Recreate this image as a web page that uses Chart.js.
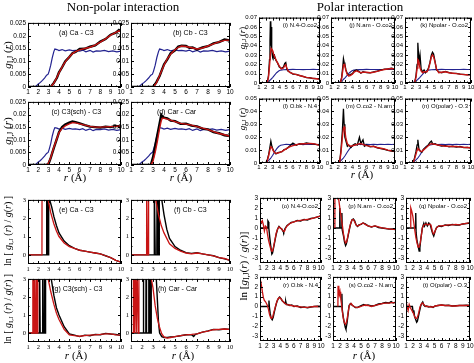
<!DOCTYPE html>
<html>
<head>
<meta charset="utf-8">
<script src="https://cdn.jsdelivr.net/npm/chart.js@4.4.1/dist/chart.umd.min.js"></script>
<style>
  body { margin: 0; background: #fff; }
  #fig { position: relative; width: 474px; height: 363px; overflow: hidden; font-family: "Liberation Serif", serif; }
  #fig canvas { position: absolute; }
  .t { position: absolute; white-space: nowrap; color: #000; line-height: 1; }
  sub { font-size: 0.7em; line-height: 0; vertical-align: -0.3em; }
</style>
</head>
<body>
<div id="fig"></div>
<script>
// ---- axis ticks ----
const xTicks = [1, 2, 3, 4, 5, 6, 7, 8, 9, 10];
const gTicks = [0, 0.005, 0.01, 0.015, 0.02, 0.025];
const g7Ticks = [0, 0.01, 0.02, 0.03, 0.04, 0.05, 0.06, 0.07];
const g5Ticks = [0, 0.01, 0.02, 0.03, 0.04, 0.05];
const lnLTicks = [0, 1, 2, 3];
const lnRTicks = [-3, -2, -1, 0, 1, 2, 3];

// ---- blue reference curves (same in every panel of a block) ----
const bluLX = [1, 1.6, 1.8, 2.0, 2.2, 2.4, 2.6, 2.8, 2.95, 3.05, 3.2, 3.35, 3.5, 3.6, 3.8, 4.0, 4.3, 4.6, 5.0, 5.3, 5.6, 6.0, 6.3, 6.6, 7.0, 7.3, 7.6, 8.0, 8.4, 8.8, 9.2, 9.6, 10];
const bluLY = [0, 0, 0.0004, 0.0012, 0.0018, 0.0026, 0.0035, 0.0046, 0.005, 0.0062, 0.0085, 0.0115, 0.0138, 0.0148, 0.0146, 0.0142, 0.0146, 0.0141, 0.0145, 0.0142, 0.0143, 0.014, 0.0144, 0.0137, 0.0143, 0.0136, 0.0141, 0.014, 0.0143, 0.0138, 0.0141, 0.0137, 0.014];
const bluRX = [1, 1.8, 2.1, 2.4, 2.7, 3.0, 3.3, 3.6, 3.9, 4.2, 4.6, 5.0, 5.5, 6.0, 6.5, 7.0, 7.5, 8.0, 8.5, 9.0, 9.5, 10];
const bluRY = [0, 0, 0.0005, 0.0018, 0.0035, 0.0058, 0.0085, 0.011, 0.0128, 0.0138, 0.0142, 0.0145, 0.0143, 0.0146, 0.0144, 0.0145, 0.0143, 0.0145, 0.0144, 0.0146, 0.0144, 0.0145];

// ---- non-polar g_ij(r) ----
const aX = [1, 3.2, 3.5, 3.8, 4.0, 4.3, 4.6, 5.0, 5.3, 5.6, 6.0, 6.5, 7.0, 7.5, 8.0, 8.5, 9.0, 9.5, 9.8, 10];
const aRed = [0, 0, 0.0015, 0.0038, 0.0055, 0.0078, 0.0098, 0.0118, 0.013, 0.0138, 0.0145, 0.015, 0.0155, 0.0163, 0.0175, 0.0188, 0.0202, 0.0213, 0.0219, 0.0216];
const aBlk = [0, 0, 0.0016, 0.0036, 0.0057, 0.0077, 0.01, 0.0117, 0.0132, 0.0137, 0.0148, 0.0149, 0.0157, 0.0162, 0.0177, 0.0187, 0.0204, 0.0212, 0.0222, 0.0217];
const bX = [1, 3.0, 3.3, 3.6, 4.0, 4.3, 4.6, 5.0, 5.3, 5.6, 6.0, 6.3, 6.6, 7.0, 7.5, 8.0, 8.5, 9.0, 9.5, 10];
const bRed = [0, 0, 0.0015, 0.0045, 0.0085, 0.011, 0.0128, 0.0145, 0.0155, 0.016, 0.0158, 0.0155, 0.0152, 0.0148, 0.0152, 0.016, 0.0168, 0.0176, 0.0182, 0.0183];
const bBlk = [0, 0, 0.0018, 0.0043, 0.0088, 0.0108, 0.0131, 0.0143, 0.0158, 0.0161, 0.016, 0.0153, 0.0154, 0.0146, 0.0154, 0.0159, 0.017, 0.0175, 0.0185, 0.0181];
const cX = [1, 2.8, 3.0, 3.2, 3.5, 3.8, 4.0, 4.3, 4.6, 5.0, 5.3, 5.6, 6.0, 6.5, 7.0, 7.5, 8.0, 8.5, 9.0, 9.5, 10];
const cRed = [0, 0, 0.0008, 0.003, 0.007, 0.0105, 0.0128, 0.0145, 0.0155, 0.0163, 0.0168, 0.0167, 0.0163, 0.0158, 0.0153, 0.015, 0.015, 0.0151, 0.0152, 0.0153, 0.0155];
const cBlk = [0, 0, 0.0006, 0.0028, 0.0068, 0.0104, 0.013, 0.015, 0.016, 0.0168, 0.0172, 0.017, 0.0165, 0.0158, 0.0152, 0.015, 0.0148, 0.0152, 0.015, 0.0155, 0.0152];
const dX = [1, 2.8, 3.0, 3.2, 3.4, 3.6, 3.75, 3.85, 4.0, 4.3, 4.6, 5.0, 5.5, 6.0, 6.5, 7.0, 7.5, 8.0, 8.5, 9.0, 9.5, 10];
const dRed = [0, 0, 0.0015, 0.005, 0.0095, 0.0145, 0.0175, 0.0185, 0.0185, 0.0182, 0.0178, 0.0172, 0.0165, 0.0162, 0.0158, 0.0152, 0.0146, 0.014, 0.0132, 0.0125, 0.012, 0.0114];
const dBlk = [0, 0, 0.003, 0.0075, 0.012, 0.0165, 0.0198, 0.0192, 0.0188, 0.0185, 0.0176, 0.0174, 0.0163, 0.0164, 0.0156, 0.0153, 0.0144, 0.0141, 0.013, 0.0126, 0.0118, 0.0115];

// ---- polar g_ij(r) ----
const iX = [1, 2.2, 2.4, 2.55, 2.7, 2.8, 2.9, 3.0, 3.15, 3.3, 3.5, 3.7, 4.0, 4.3, 4.6, 4.8, 4.95, 5.1, 5.3, 5.6, 6.0, 6.5, 7.0, 7.5, 8.0, 8.5, 9.0, 9.5, 10];
const iRed = [0, 0, 0.006, 0.018, 0.032, 0.037, 0.037, 0.035, 0.031, 0.028, 0.025, 0.022, 0.018, 0.015, 0.016, 0.0185, 0.0195, 0.016, 0.013, 0.011, 0.01, 0.009, 0.008, 0.007, 0.006, 0.0055, 0.005, 0.0045, 0.004];
const iBx = [1, 2.2, 2.4, 2.55, 2.62, 2.68, 2.72, 2.76, 2.8, 2.85, 2.9, 3.0, 3.1, 3.2, 3.3, 3.5, 3.7, 4.0, 4.3, 4.6, 4.8, 4.95, 5.1, 5.3, 5.6, 6.0, 6.5, 7.0, 7.5, 8.0, 8.5, 9.0, 9.5, 10];
const iBlk = [0, 0, 0.008, 0.025, 0.045, 0.066, 0.04, 0.065, 0.05, 0.06, 0.035, 0.028, 0.031, 0.027, 0.029, 0.024, 0.022, 0.017, 0.0155, 0.017, 0.021, 0.022, 0.015, 0.0125, 0.0115, 0.0095, 0.0092, 0.0078, 0.0072, 0.0058, 0.0056, 0.0048, 0.0046, 0.0042];
const jX = [1, 2.3, 2.5, 2.65, 2.75, 2.85, 2.95, 3.1, 3.3, 3.5, 3.7, 4.0, 4.3, 4.6, 4.9, 5.2, 5.5, 6.0, 6.5, 7.0, 7.5, 8.0, 8.5, 9.0, 9.5, 10];
const jRed = [0, 0, 0.005, 0.013, 0.019, 0.02, 0.018, 0.013, 0.009, 0.0075, 0.008, 0.0095, 0.012, 0.013, 0.012, 0.011, 0.0115, 0.0115, 0.011, 0.0115, 0.0125, 0.0135, 0.0145, 0.015, 0.0155, 0.015];
const jBlk = [0, 0, 0.006, 0.017, 0.026, 0.022, 0.02, 0.014, 0.01, 0.008, 0.009, 0.01, 0.013, 0.014, 0.0125, 0.0105, 0.012, 0.0112, 0.0108, 0.012, 0.0128, 0.0138, 0.0148, 0.0152, 0.0158, 0.0148];
const kX = [1, 2.3, 2.5, 2.65, 2.75, 2.85, 2.95, 3.05, 3.2, 3.4, 3.6, 3.8, 4.0, 4.2, 4.4, 4.6, 4.75, 4.9, 5.1, 5.3, 5.6, 6.0, 6.5, 7.0, 7.5, 8.0, 8.5, 9.0, 9.5, 10];
const kRed = [0, 0, 0.006, 0.016, 0.025, 0.024, 0.02, 0.016, 0.013, 0.011, 0.012, 0.012, 0.012, 0.015, 0.021, 0.028, 0.03, 0.028, 0.022, 0.015, 0.011, 0.0115, 0.012, 0.011, 0.0105, 0.01, 0.0095, 0.009, 0.0088, 0.0088];
const kBlk = [0, 0, 0.008, 0.02, 0.043, 0.03, 0.024, 0.03, 0.015, 0.012, 0.014, 0.011, 0.013, 0.016, 0.022, 0.03, 0.033, 0.031, 0.023, 0.014, 0.012, 0.011, 0.0125, 0.011, 0.0102, 0.0102, 0.0094, 0.0092, 0.0086, 0.009];
const lX = [1, 2.0, 2.2, 2.4, 2.6, 2.75, 2.9, 3.1, 3.3, 3.5, 3.8, 4.1, 4.4, 4.7, 5.0, 5.5, 6.0, 6.5, 7.0, 7.5, 8.0, 8.5, 9.0, 9.5, 10];
const lRed = [0, 0, 0.0015, 0.005, 0.01, 0.0125, 0.012, 0.0095, 0.008, 0.0075, 0.0078, 0.0082, 0.009, 0.01, 0.011, 0.0125, 0.0135, 0.0142, 0.0148, 0.015, 0.015, 0.0152, 0.015, 0.0145, 0.0135];
const lBlk = [0, 0, 0.002, 0.006, 0.012, 0.017, 0.013, 0.01, 0.0082, 0.007, 0.008, 0.0085, 0.0088, 0.0105, 0.0108, 0.013, 0.0155, 0.0138, 0.015, 0.0148, 0.0155, 0.015, 0.0148, 0.0142, 0.0138];
const mX = [1, 2.2, 2.4, 2.6, 2.75, 2.85, 2.95, 3.1, 3.3, 3.5, 3.8, 4.1, 4.4, 4.7, 5.0, 5.2, 5.5, 5.7, 6.0, 6.5, 7.0, 7.5, 8.0, 8.5, 9.0, 9.5, 10];
const mRed = [0, 0, 0.008, 0.02, 0.027, 0.028, 0.025, 0.019, 0.015, 0.0135, 0.013, 0.0135, 0.014, 0.0145, 0.015, 0.015, 0.0145, 0.014, 0.0135, 0.013, 0.0128, 0.012, 0.0115, 0.011, 0.01, 0.0095, 0.009];
const mBlk = [0, 0, 0.01, 0.025, 0.042, 0.03, 0.02, 0.017, 0.013, 0.014, 0.012, 0.014, 0.015, 0.014, 0.02, 0.015, 0.018, 0.013, 0.014, 0.0125, 0.013, 0.0118, 0.0112, 0.0105, 0.0098, 0.0092, 0.0088];
const nX = [1, 2.1, 2.3, 2.5, 2.65, 2.75, 2.9, 3.1, 3.3, 3.5, 3.8, 4.1, 4.4, 4.6, 4.8, 5.1, 5.5, 6.0, 6.5, 7.0, 7.5, 8.0, 8.5, 9.0, 9.5, 10];
const nRed = [0, 0, 0.003, 0.007, 0.01, 0.0112, 0.0105, 0.0092, 0.009, 0.01, 0.0115, 0.013, 0.0145, 0.015, 0.0148, 0.0145, 0.014, 0.0135, 0.013, 0.013, 0.0128, 0.0128, 0.0125, 0.0122, 0.012, 0.0118];
const nBlk = [0, 0, 0.004, 0.009, 0.014, 0.018, 0.011, 0.009, 0.0085, 0.0105, 0.012, 0.0135, 0.016, 0.017, 0.0145, 0.015, 0.0138, 0.0132, 0.0135, 0.0126, 0.013, 0.0124, 0.0128, 0.012, 0.0122, 0.0115];

// ---- non-polar ln[g_ij/g] (values above 3 run off the top) ----
const eRx = [1, 2.35, 2.36, 2.95, 3.2, 3.5, 3.75, 4.0, 4.5, 5.0, 5.5, 6.0, 6.5, 7.0, 7.5, 8.0, 8.5, 9.0, 9.5, 10];
const eRed = [0, 0, 4, 3.0, 2.3, 1.7, 1.3, 1.0, 0.65, 0.45, 0.35, 0.25, 0.2, 0.15, 0.1, 0.05, -0.05, -0.15, -0.3, -0.4];
const eBx = [1, 2.8, 2.81, 2.86, 2.9, 2.95, 3.0, 3.1, 3.3, 3.5, 3.75, 4.0, 4.5, 5.0, 5.5, 6.0, 6.5, 7.0, 7.5, 8.0, 8.5, 9.0, 9.5, 10];
const eBlk = [0, 0, 4, 0, 4, 0, 4, 3.0, 2.6, 2.1, 1.6, 1.2, 0.75, 0.5, 0.35, 0.25, 0.2, 0.15, 0.1, 0.05, -0.05, -0.15, -0.3, -0.4];
const fRx = [1, 2.4, 2.42, 2.5, 2.55, 2.6, 3.25, 3.5, 3.75, 4.0, 4.5, 5.0, 5.5, 6.0, 6.5, 7.0, 7.5, 8.0, 8.5, 9.0, 9.5, 10];
const fRed = [0, 0, 4, 0, 0, 4, 3.0, 2.2, 1.6, 1.2, 0.6, 0.35, 0.2, 0.1, 0.05, 0.1, 0.05, 0.0, -0.05, -0.15, -0.2, -0.3];
const fBx = [1, 3.1, 3.12, 3.2, 3.35, 3.37, 3.45, 3.55, 3.57, 3.8, 4.0, 4.25, 4.5, 5.0, 5.5, 6.0, 6.5, 7.0, 7.5, 8.0, 8.5, 9.0, 9.5, 10];
const fBlk = [0, 0, 4, 0, 0, 4, 0, 0, 4, 3.0, 2.2, 1.4, 0.9, 0.45, 0.25, 0.12, 0.08, 0.12, 0.05, 0.0, -0.05, -0.15, -0.22, -0.3];
const gRx = [1, 1.45, 1.47, 1.55, 1.6, 1.62, 1.72, 1.78, 1.8, 1.9, 1.95, 2.95, 3.2, 3.5, 3.75, 4.0, 4.5, 5.0, 5.5, 6.0, 6.5, 7.0, 7.5, 8.0, 8.5, 9.0, 9.5, 10];
const gRed = [0, 0, 4, 0, 0, 4, 0, 0, 4, 0, 4, 3.0, 2.3, 1.6, 1.1, 0.75, 0.2, -0.1, -0.15, -0.18, -0.15, -0.12, -0.1, -0.08, -0.05, -0.05, -0.1, -0.12];
const gBx = [1, 2.1, 2.12, 2.18, 2.4, 2.42, 2.48, 2.55, 2.57, 2.63, 2.68, 2.7, 3.25, 3.5, 3.75, 4.0, 4.5, 5.0, 5.5, 6.0, 6.5, 7.0, 7.5, 8.0, 8.5, 9.0, 9.5, 10];
const gBlk = [0, 0, 4, 0, 0, 4, 0, 0, 4, 0, 0, 4, 3.0, 2.1, 1.4, 1.0, 0.35, -0.05, -0.12, -0.2, -0.12, -0.15, -0.08, -0.1, -0.02, -0.06, -0.08, -0.14];
const hRx = [1, 1.2, 1.22, 1.32, 1.38, 1.48, 1.55, 1.65, 1.72, 2.85, 3.0, 3.2, 3.4, 3.6, 3.8, 4.0, 4.3, 4.6, 5.0, 5.5, 6.0, 6.5, 7.0, 7.5, 8.0, 8.5, 9.0, 9.5, 10];
const hRed = [0, 0, 4, 0, 4, 0, 4, 0, 4, 3.0, 2.5, 1.5, 0.8, 0.3, -0.05, -0.22, -0.28, -0.25, -0.2, -0.15, -0.1, -0.08, -0.05, 0.05, 0.1, 0.18, 0.2, 0.22, 0.2];
const hBx = [1, 2.1, 2.12, 2.16, 2.35, 2.37, 2.41, 2.6, 2.62, 2.66, 2.7, 2.74, 2.78, 2.82, 2.84, 3.3, 3.4, 3.5, 3.6, 3.8, 4.0, 4.3, 4.6, 5.0, 5.5, 6.0, 6.5, 6.7, 6.85, 7.0, 7.5, 8.0, 8.5, 9.0, 9.5, 10];
const hBlk = [0, 0, 4, 0, 0, 4, 0, 0, 4, 0, 4, 0, 4, 0, 4, 3.0, 1.8, 0.6, 0.0, -0.2, -0.25, -0.25, -0.22, -0.2, -0.15, -0.1, -0.1, -0.2, -0.08, -0.05, 0.05, 0.12, 0.2, 0.18, 0.22, 0.2];

// ---- polar ln[g_ij/g] ----
const oRx = [1.05, 1.2, 1.35, 1.5, 1.65, 1.8, 1.95, 2.1, 2.25, 2.4, 2.55, 2.7, 2.85, 3.0, 3.2, 3.4, 3.6, 3.8, 4.0, 4.2, 4.4, 4.6, 4.8, 5.0, 5.3, 5.6, 6.0, 6.5, 7.0, 7.5, 8.0, 8.5, 9.0, 9.5, 10];
const oRed = [0.8, 0.5, 0.7, 0.3, -0.3, 0.2, 0.1, -0.6, -1.2, -1.6, -2.0, -2.3, -2.3, -1.9, -1.2, -0.5, -0.1, 0.1, 0.0, -0.1, -0.3, -0.35, 0.0, 0.2, 0.4, 0.5, 0.6, 0.7, 0.75, 0.8, 0.85, 0.9, 1.0, 1.1, 1.2];
const oBx = [1, 2.15, 2.17, 2.25, 2.3, 2.45, 2.6, 2.75, 2.85, 3.0, 3.2, 3.4, 3.6, 3.8, 4.0, 4.2, 4.4, 4.5, 4.7, 5.0, 5.3, 5.6, 6.0, 6.5, 7.0, 7.5, 8.0, 8.5, 9.0, 9.5, 10];
const oBlk = [0, 0, 0.7, 0.6, 0, -1.0, -1.9, -2.6, -2.5, -2.0, -1.3, -0.6, -0.1, 0.15, 0.0, -0.1, -0.35, -0.45, -0.05, 0.25, 0.4, 0.55, 0.6, 0.75, 0.7, 0.85, 0.8, 0.95, 1.0, 1.1, 1.2];
const pRx = [1.25, 1.27, 1.4, 1.5, 1.6, 1.75, 1.9, 2.05, 2.2, 2.35, 2.5, 2.65, 2.8, 2.95, 3.1, 3.3, 3.5, 3.7, 3.9, 4.1, 4.3, 4.5, 4.7, 5.0, 5.3, 5.6, 6.0, 6.5, 7.0, 7.5, 8.0, 8.5, 9.0, 9.5, 10];
const pRed = [0, 4, 4, 4, 4, 3.2, 2.4, 1.6, 0.9, 0.2, -0.6, -1.2, -1.5, -1.4, -0.9, -0.2, 0.4, 0.8, 0.85, 0.6, 0.3, 0.2, 0.25, 0.4, 0.5, 0.35, 0.2, 0.1, 0.2, 0.1, 0.0, -0.05, -0.1, -0.15, -0.15];
const pBx = [1, 1.95, 1.97, 2.02, 2.25, 2.27, 2.32, 2.5, 2.65, 2.8, 2.9, 3.1, 3.3, 3.5, 3.7, 3.9, 4.1, 4.3, 4.5, 4.7, 5.0, 5.3, 5.6, 6.0, 6.5, 7.0, 7.5, 8.0, 8.5, 9.0, 9.5, 10];
const pBlk = [0, 0, 2.0, 0, 0, 1.5, -0.2, -0.8, -1.4, -1.75, -1.6, -1.0, -0.3, 0.35, 0.8, 0.9, 0.7, 0.3, 0.15, 0.3, 0.35, 0.5, 0.4, 0.2, 0.1, 0.2, 0.05, 0.0, -0.05, -0.12, -0.1, -0.2];
const qRx = [1.65, 1.67, 1.8, 1.95, 2.1, 2.25, 2.4, 2.55, 2.7, 2.85, 3.0, 3.15, 3.3, 3.5, 3.7, 3.9, 4.1, 4.3, 4.5, 4.7, 4.85, 5.0, 5.2, 5.4, 5.7, 6.0, 6.5, 7.0, 7.5, 8.0, 8.5, 9.0, 9.5, 10];
const qRed = [0, 2.0, 1.7, 1.2, 0.5, -0.3, -1.0, -1.5, -1.9, -1.9, -1.5, -0.8, 0.0, 0.3, 0.35, 0.4, 0.3, 0.4, 0.3, -0.3, -0.6, -0.5, -0.1, 0.1, 0.2, 0.2, 0.25, 0.3, 0.3, 0.35, 0.3, 0.4, 0.45, 0.5];
const qBx = [1, 2.35, 2.37, 2.42, 2.55, 2.7, 2.85, 2.95, 3.1, 3.3, 3.5, 3.6, 3.8, 4.0, 4.2, 4.4, 4.6, 4.75, 4.9, 5.1, 5.3, 5.6, 6.0, 6.5, 7.0, 7.5, 8.0, 8.5, 9.0, 9.5, 10];
const qBlk = [0, 0, 1.5, -0.5, -1.3, -1.8, -2.3, -2.0, -1.0, 0.0, 0.45, 0.2, 0.5, 0.2, 0.5, 0.35, -0.2, -0.55, -0.8, -0.3, 0.05, 0.2, 0.15, 0.3, 0.25, 0.35, 0.3, 0.3, 0.4, 0.45, 0.5];
const rRx = [1.1, 1.2, 1.35, 1.5, 1.65, 1.8, 1.95, 2.1, 2.25, 2.4, 2.55, 2.7, 2.85, 3.0, 3.2, 3.4, 3.6, 3.8, 4.0, 4.2, 4.4, 4.6, 4.8, 5.0, 5.3, 5.6, 6.0, 6.5, 7.0, 7.5, 8.0, 8.5, 9.0, 9.5, 10];
const rRed = [2.6, 2.2, 1.5, 0.9, 0.6, 0.5, 0.3, 0.1, -0.3, -0.8, -1.1, -1.2, -1.1, -0.7, -0.2, 0.3, 0.7, 0.9, 0.85, 0.7, 0.5, 0.35, 0.25, 0.2, 0.15, 0.1, 0.05, 0.0, -0.05, -0.1, -0.1, -0.05, 0.0, 0.0, 0.0];
const rBx = [1, 2.3, 2.32, 2.38, 2.5, 2.65, 2.8, 2.95, 3.1, 3.3, 3.5, 3.7, 3.9, 4.1, 4.3, 4.5, 4.7, 4.8, 4.9, 5.1, 5.4, 5.7, 6.0, 6.5, 7.0, 7.5, 8.0, 8.5, 9.0, 9.5, 10];
const rBlk = [0, 0, 0.6, 0, -0.7, -1.2, -1.35, -1.1, -0.6, 0.0, 0.5, 0.8, 0.95, 0.8, 0.55, 0.45, 0.3, 0.5, 0.2, 0.2, 0.1, 0.15, 0.0, 0.05, -0.1, -0.05, -0.12, -0.05, 0.0, 0.02, 0.0];
const sRx = [1.7, 1.72, 1.8, 1.85, 1.9, 2.0, 2.1, 2.2, 2.35, 2.5, 2.65, 2.8, 2.95, 3.1, 3.25, 3.4, 3.6, 3.8, 4.0, 4.3, 4.6, 5.0, 5.3, 5.6, 6.0, 6.5, 7.0, 7.5, 8.0, 8.5, 9.0, 9.5, 10];
const sRed = [0, 2.1, 1.6, 2.0, 1.2, 1.5, 0.8, 0.3, -0.6, -1.3, -1.7, -1.8, -1.5, -0.9, -0.2, 0.2, 0.3, 0.1, 0.0, -0.1, -0.1, 0.0, 0.1, 0.15, 0.1, 0.0, 0.1, 0.2, 0.3, 0.35, 0.35, 0.4, 0.4];
const sBx = [1, 2.25, 2.27, 2.32, 2.45, 2.6, 2.75, 2.85, 3.0, 3.15, 3.3, 3.5, 3.7, 3.9, 4.2, 4.5, 4.8, 5.1, 5.4, 5.7, 6.0, 6.5, 7.0, 7.5, 8.0, 8.5, 9.0, 9.3, 9.6, 10];
const sBlk = [0, 0, 1.3, -0.3, -1.0, -1.6, -2.1, -2.3, -1.7, -0.8, 0.1, 0.3, 0.15, 0.05, -0.1, -0.1, 0.0, 0.1, 0.2, 0.1, 0.15, 0.05, 0.1, 0.25, 0.3, 0.4, 0.35, 0.5, 0.35, 0.45];
const tRx = [1.05, 1.15, 1.3, 1.45, 1.6, 1.75, 1.9, 2.05, 2.2, 2.35, 2.5, 2.65, 2.8, 2.95, 3.1, 3.3, 3.5, 3.7, 3.9, 4.2, 4.5, 4.8, 5.1, 5.5, 6.0, 6.5, 7.0, 7.5, 8.0, 8.5, 9.0, 9.5, 10];
const tRed = [0.4, 0.0, -0.4, 0.2, -0.1, -0.3, -0.5, -0.7, -1.0, -1.2, -1.2, -1.0, -0.6, -0.1, 0.2, 0.35, 0.2, 0.05, 0.0, 0.0, -0.05, -0.05, 0.05, 0.1, 0.15, 0.1, 0.1, 0.05, 0.05, 0.1, 0.1, 0.1, 0.1];
const tBx = [1, 1.9, 2.0, 2.1, 2.2, 2.35, 2.5, 2.6, 2.75, 2.9, 3.05, 3.2, 3.35, 3.5, 3.7, 3.9, 4.2, 4.5, 4.8, 5.1, 5.5, 6.0, 6.5, 7.0, 7.5, 8.0, 8.5, 9.0, 9.5, 10];
const tBlk = [0, 0, -0.6, -0.4, -1.0, -1.3, -1.6, -1.5, -1.0, -0.5, 0.0, 0.3, 0.45, 0.15, 0.0, 0.05, -0.05, 0.0, -0.1, 0.05, 0.1, 0.15, 0.1, 0.12, 0.05, 0.08, 0.1, 0.1, 0.12, 0.1];

// ---- drawing ----
const fig = document.getElementById('fig');
const COL = { k: '#000000', r: '#c81414', b: '#232390' };
const ORD = { r: 0, k: 1, b: 2 };

const sans = s => ({ family: 'Liberation Sans', size: s });
const serif = s => ({ family: 'Liberation Serif', size: s });

const TL = { y: [0, 0.025], yt: gTicks, yw: 20, dec: 3, tf: sans(6.5), lf: '7px "Liberation Sans"', lw: { k: 2.4, r: 1.4, b: 1.2 } };
const TR1 = { y: [0, 0.07], yt: g7Ticks, yw: 16, dec: 2, tf: sans(6), lf: '6px "Liberation Sans"', lw: { k: 1.3, r: 1.4, b: 1.1 } };
const TR2 = { ...TR1, y: [0, 0.05], yt: g5Ticks };
const BL = { y: [-0.5, 3], yt: lnLTicks, yw: 11, dec: 0, tf: serif(6.5), lf: '7px "Liberation Sans"', lw: { k: 1.4, r: 1.3 } };
const BR = { y: [-3.5, 3], yt: lnRTicks, yw: 14, dec: 0, tf: sans(6.5), lf: '6px "Liberation Sans"', lw: { k: 1.4, r: 1.3 } };

const panels = [
  [TL, [28, 21, 121, 87], '(a) Ca - C3', 0.52, [[aX, aBlk, 'k'], [aX, aRed, 'r'], [bluLX, bluLY, 'b']]],
  [TL, [131, 21, 230, 87], '(b) Cb - C3', 0.6, [[bX, bBlk, 'k'], [bX, bRed, 'r'], [bluLX, bluLY, 'b']]],
  [TL, [28, 100, 121, 165], '(c) C3(sch) - C3', 0.52, [[cX, cBlk, 'k'], [cX, cRed, 'r'], [bluLX, bluLY, 'b']]],
  [TL, [131, 100, 230, 165], '(d) Car - Car', 0.46, [[dX, dBlk, 'k'], [dX, dRed, 'r'], [bluLX, bluLY, 'b']]],
  [TR1, [259, 16, 320, 83], '(i) N.4-O.co2', null, [[iBx, iBlk, 'k'], [iX, iRed, 'r'], [bluRX, bluRY, 'b']]],
  [TR1, [331, 16, 395, 83], '(j) N.am - O.co2', null, [[jX, jBlk, 'k'], [jX, jRed, 'r'], [bluRX, bluRY, 'b']]],
  [TR1, [405, 16, 471, 83], '(k) Npolar - O.co2', null, [[kX, kBlk, 'k'], [kX, kRed, 'r'], [bluRX, bluRY, 'b']]],
  [TR2, [259, 97, 320, 163], '(l) O.bk - N.4', null, [[lX, lBlk, 'k'], [lX, lRed, 'r'], [bluRX, bluRY, 'b']]],
  [TR2, [331, 97, 395, 163], '(m) O.co2 - N.am', null, [[mX, mBlk, 'k'], [mX, mRed, 'r'], [bluRX, bluRY, 'b']]],
  [TR2, [405, 97, 471, 163], '(n) O(polar) - O.3', null, [[nX, nBlk, 'k'], [nX, nRed, 'r'], [bluRX, bluRY, 'b']]],
  [BL, [28, 198, 121, 264], '(e) Ca - C3', 0.52, [[eBx, eBlk, 'k'], [eRx, eRed, 'r']]],
  [BL, [131, 198, 230, 264], '(f) Cb - C3', 0.6, [[fBx, fBlk, 'k'], [fRx, fRed, 'r']]],
  [BL, [28, 277, 121, 342], '(g) C3(sch) - C3', 0.53, [[gBx, gBlk, 'k'], [gRx, gRed, 'r']]],
  [BL, [131, 277, 230, 342], '(h) Car - Car', 0.47, [[hBx, hBlk, 'k'], [hRx, hRed, 'r']]],
  [BR, [260, 196, 321, 263], '(o) N.4-O.co2', null, [[oBx, oBlk, 'k'], [oRx, oRed, 'r']]],
  [BR, [333, 196, 396, 263], '(p) N.am - O.co2', null, [[pBx, pBlk, 'k'], [pRx, pRed, 'r']]],
  [BR, [406, 196, 470, 263], '(q) Npolar - O.co2', null, [[qBx, qBlk, 'k'], [qRx, qRed, 'r']]],
  [BR, [260, 275, 321, 341], '(r) O.bk - N.4', null, [[rBx, rBlk, 'k'], [rRx, rRed, 'r']]],
  [BR, [333, 275, 396, 341], '(s) O.co2 - N.am', null, [[sBx, sBlk, 'k'], [sRx, sRed, 'r']]],
  [BR, [406, 275, 470, 341], '(t) O(polar) - O.3', null, [[tBx, tBlk, 'k'], [tRx, tRed, 'r']]]
];

// box with inward ticks on all four sides + panel caption
function framePlugin(g, text, fx) {
  const mids = t => t.slice(1).map((v, i) => (v + t[i]) / 2);
  return {
    id: 'frame',
    afterDatasetsDraw(chart) {
      const { ctx, chartArea: a, scales: { x, y } } = chart;
      ctx.save();
      ctx.strokeStyle = '#000';
      ctx.lineWidth = 1;
      ctx.strokeRect(a.left + 0.5, a.top + 0.5, a.right - a.left - 1, a.bottom - a.top - 1);
      ctx.beginPath();
      const xt = (v, len) => {
        const p = Math.round(x.getPixelForValue(v)) + 0.5;
        ctx.moveTo(p, a.bottom); ctx.lineTo(p, a.bottom - len);
        ctx.moveTo(p, a.top); ctx.lineTo(p, a.top + len);
      };
      const yt = (v, len) => {
        const p = Math.round(y.getPixelForValue(v)) + 0.5;
        ctx.moveTo(a.left, p); ctx.lineTo(a.left + len, p);
        ctx.moveTo(a.right, p); ctx.lineTo(a.right - len, p);
      };
      xTicks.forEach(v => xt(v, 3));
      mids(xTicks).forEach(v => xt(v, 1.5));
      g.yt.forEach(v => yt(v, 3));
      mids(g.yt).forEach(v => yt(v, 1.5));
      ctx.stroke();
      ctx.fillStyle = '#000';
      ctx.font = g.lf;
      ctx.textBaseline = 'middle';
      if (fx === null) {
        ctx.textAlign = 'right';
        ctx.fillText(text, a.right - 3, a.top + 8);
      } else {
        ctx.textAlign = 'center';
        ctx.fillText(text, a.left + fx * (a.right - a.left), a.top + 10);
      }
      ctx.restore();
    }
  };
}

function makePanel([g, box, text, fx, series]) {
  const [L, T, R, B] = box;
  const pt = 4, pr = 7, xh = 10;
  const cv = document.createElement('canvas');
  cv.width = R - L + g.yw + pr;
  cv.height = B - T + pt + xh;
  cv.style.left = (L - g.yw) + 'px';
  cv.style.top = (T - pt) + 'px';
  fig.appendChild(cv);

  new Chart(cv, {
    type: 'line',
    data: {
      datasets: series.map(([xs, ys, k]) => ({
        data: xs.map((v, i) => ({ x: v, y: ys[i] })),
        borderColor: COL[k],
        borderWidth: g.lw[k],
        pointRadius: 0,
        tension: 0,
        fill: false,
        order: ORD[k]
      }))
    },
    options: {
      responsive: false,
      animation: false,
      events: [],
      layout: { padding: { top: pt, right: pr, left: 0, bottom: 0 } },
      plugins: { legend: { display: false }, tooltip: { enabled: false } },
      scales: {
        x: {
          type: 'linear', min: 1, max: 10,
          afterBuildTicks: s => { s.ticks = xTicks.map(v => ({ value: v })); },
          afterFit: s => { s.height = xh; },
          grid: { display: false, drawTicks: false },
          border: { display: false },
          ticks: { font: g.tf, color: '#000', padding: 1, maxRotation: 0, autoSkip: false }
        },
        y: {
          type: 'linear', min: g.y[0], max: g.y[1],
          afterBuildTicks: s => { s.ticks = g.yt.map(v => ({ value: v })); },
          afterFit: s => { s.width = g.yw; },
          grid: { display: false, drawTicks: false },
          border: { display: false },
          ticks: {
            font: g.tf, color: '#000', padding: 2, autoSkip: false,
            callback: v => String(+Number(v).toFixed(g.dec))
          }
        }
      }
    },
    plugins: [framePlugin(g, text, fx)]
  });
}

panels.forEach(makePanel);

// ---- figure text ----
function txt(html, cx, cy, size, rot) {
  const d = document.createElement('div');
  d.className = 't';
  d.innerHTML = html;
  d.style.left = cx + 'px';
  d.style.top = cy + 'px';
  d.style.fontSize = size + 'px';
  d.style.transform = 'translate(-50%,-50%)' + (rot ? ' rotate(-90deg)' : '');
  fig.appendChild(d);
}
const gij = '<i>g</i><sub>I,J</sub> (<i>r</i>)';
const lnL = 'ln [ <i>g</i><sub>I,J</sub> (<i>r</i>) / <i>g</i>(<i>r</i>) ]';
const lnR = 'ln [<i>g</i><sub>I,J</sub>(<i>r</i>) / <i>g</i>(<i>r</i>)]';
const rA = '<i>r</i> (Å)';

txt('Non-polar interaction', 123, 6, 13, false);
txt('Polar interaction', 360, 6, 13, false);
txt(gij, 7, 55, 11, true);
txt(gij, 7, 131, 11, true);
txt(gij, 242, 38, 9, true);
txt(gij, 242, 119, 9, true);
txt(lnL, 8, 231, 10, true);
txt(lnL, 8, 309, 10, true);
txt(lnR, 243, 266, 11, true);
txt(rA, 75, 177, 11, false);
txt(rA, 181, 177, 11, false);
txt(rA, 362, 174, 11, false);
txt(rA, 76, 355, 11, false);
txt(rA, 183, 355, 11, false);
txt(rA, 364, 355, 11, false);
</script>
</body>
</html>
